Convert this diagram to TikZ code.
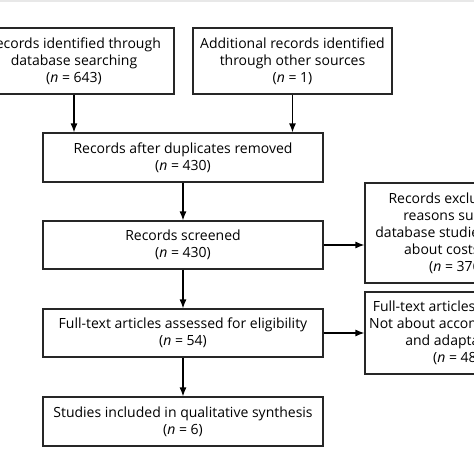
\documentclass[tikz,border=0pt]{standalone}
\usepackage{fontspec}
\setmainfont{Open Sans}
\usetikzlibrary{arrows.meta}

\begin{document}
\begin{tikzpicture}[>={Latex[length=9pt,width=7pt]}, x=1pt, y=-1pt, line width=1.2pt,
    box/.style={rectangle, draw=black!85, align=center, inner sep=0pt,
      font=\fontsize{14}{17}\selectfont}]
			\useasboundingbox (0,0) rectangle (474,474);
			\clip (0,0) rectangle (474,474);
			\fill[black!9] (0,0) rectangle (474,2);

			\node[box, minimum width=200pt, minimum height=66pt](DB) at (74,61) {Records identified through\\database searching\\(\textit{n} = 643)};
			\node[box, minimum width=199pt, minimum height=66pt](OS) at (292.5,61) {Additional records identified\\through other sources\\(\textit{n} = 1)};

			\node[box, minimum width=280pt, minimum height=49pt](DUP) at (183,157.5) {Records after duplicates removed\\(\textit{n} = 430)};
			\node[box, minimum width=280pt, minimum height=48pt](SCR) at (183,245) {Records screened\\(\textit{n} = 430)};
			\node[box, minimum width=280pt, minimum height=48pt](FT) at (183,333) {Full-text articles assessed for eligibility\\(\textit{n} = 54)};
			\node[box, minimum width=280pt, minimum height=49pt](INC) at (183,421.5) {Studies included in qualitative synthesis\\(\textit{n} = 6)};

			\node[box, minimum width=184pt, minimum height=100pt](EXR) at (457,233) {Records excluded for\\reasons such as:\\database studies, and no\\about costs, etc.\\(\textit{n} = 376)};
			\node[box, minimum width=184pt, minimum height=82pt](EXF) at (457,333) {Full-text articles excluded:\\Not about accommodation\\and adaptation.\\(\textit{n} = 48)};

			\draw[->](DB) -- (DB |- DUP.north);
			\draw[->](OS) -- (OS |- DUP.north);
			\draw[->](DUP) -- (SCR);
			\draw[->](SCR) -- (FT);
			\draw[->](FT) -- (INC);
			\draw[->](SCR.east) -- (SCR.east -| EXR.west);
			\draw[->](FT) -- (EXF);
		\end{tikzpicture}
\end{document}
